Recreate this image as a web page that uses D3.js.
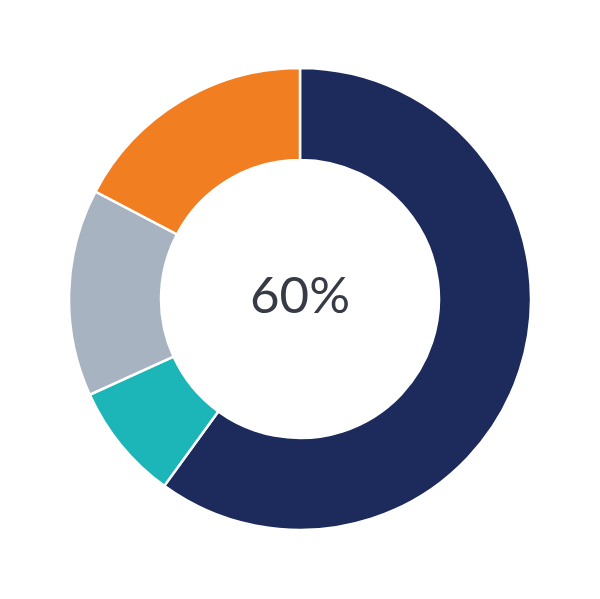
<!DOCTYPE html>
<html>
<head>
<meta charset="utf-8">
<script src="https://cdn.jsdelivr.net/npm/d3@7"></script>
<style>
  body { margin: 0; background: #fff; }
  svg { display: block; }
</style>
</head>
<body>
<svg id="chart" width="600" height="599"></svg>
<script>
// shares, clockwise from 12 o'clock
const segments = ["Navy", "Teal", "Gray", "Orange"];
const shares = [60, 8.2, 14.5, 17.3];
const colors = ["#1c2b5b", "#1db6b8", "#a8b3c1", "#f27e22"];
const centerLabel = "60%";

const width = 600, height = 599;
const cx = 300, cy = 299;
const outerR = 231, innerR = 139;

const svg = d3.select("#chart");

const pie = d3.pie()
  .sort(null)
  .value(d => d.value);

const arc = d3.arc()
  .innerRadius(innerR)
  .outerRadius(outerR);

const data = segments.map((s, i) => ({ name: s, value: shares[i], color: colors[i] }));

const g = svg.append("g")
  .attr("transform", `translate(${cx}, ${cy})`);

g.selectAll("path")
  .data(pie(data))
  .join("path")
  .attr("d", arc)
  .attr("fill", d => d.data.color)
  .attr("stroke", "#fff")
  .attr("stroke-width", 2.5);

// baseline sits a little under the centre so the digits look centred
g.append("text")
  .attr("text-anchor", "middle")
  .attr("y", 14)
  .attr("font-family", "Lato, sans-serif")
  .attr("font-weight", 400)
  .attr("font-size", 51)
  .attr("fill", "#363b45")
  .text(centerLabel);
</script>
</body>
</html>
